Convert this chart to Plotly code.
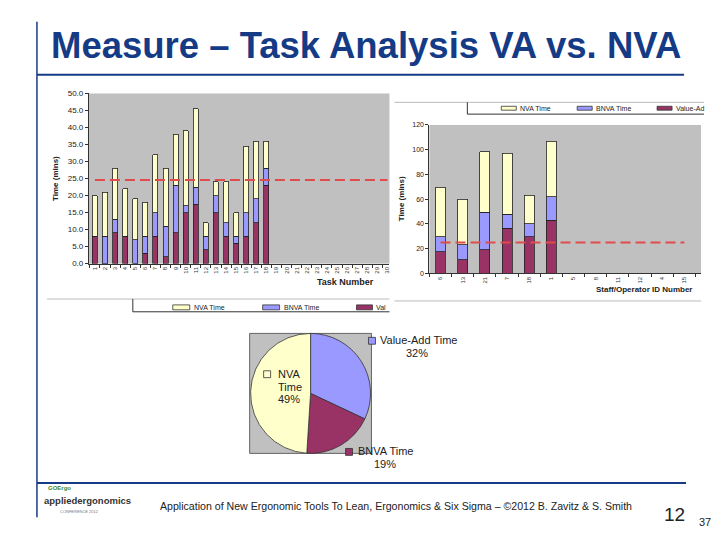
import plotly.graph_objects as go

# ---------------- data ----------------
task_numbers = ["1", "2", "3", "4", "5", "6", "7", "8", "9", "10", "11", "12", "13", "14", "15",
                "16", "17", "18", "19", "20", "21", "22", "23", "24", "25", "26", "27", "28", "29", "30"]
task_va = [8, 0, 9, 8, 0, 3, 8, 2, 9, 15, 17.5, 4, 15, 8, 6, 8, 12, 23]
task_bnva = [0, 8, 4, 0, 7, 5, 7, 9, 14, 2, 5, 4, 5, 4, 2, 7, 7, 5]
task_nva = [12, 13, 15, 14, 12, 10, 17, 17, 15, 22, 23, 4, 4, 12, 7, 19.5, 17, 8]
task_target = 24.6
task_yticks = [0, 5, 10, 15, 20, 25, 30, 35, 40, 45, 50]

staff_ids = ["6", "13", "21", "7", "18", "1", "5", "8", "11", "12", "4", "15"]
staff_va = [17.5, 11, 19, 36.5, 29.5, 43]
staff_bnva = [12, 12, 30.5, 11.5, 10.5, 19]
staff_nva = [40, 37, 49, 49, 23, 45]
staff_target = 25
staff_yticks = [0, 20, 40, 60, 80, 100, 120]

pie_labels = ["Value-Add Time", "BNVA Time", "NVA Time"]
pie_values = [32, 19, 49]

# ---------------- styles ----------------
C_NVA = "#FFFFCC"
C_BNVA = "#9999FF"
C_VA = "#993366"
C_GRAY = "#C0C0C0"
C_RED = "#E24B4B"
NAVY = "#153B86"
FONT = "Liberation Sans"
W, H = 720, 540


def px(x):
    return x / W


def py(y):
    return 1 - y / H


fig = go.Figure()
outline = dict(color="#222222", width=0.8)

# left chart
n = len(task_va)
fig.add_trace(go.Bar(x=task_numbers[:n], y=task_va, marker=dict(color=C_VA, line=outline),
                     width=0.5, xaxis="x", yaxis="y", showlegend=False))
fig.add_trace(go.Bar(x=task_numbers[:n], y=task_bnva, marker=dict(color=C_BNVA, line=outline),
                     width=0.5, xaxis="x", yaxis="y", showlegend=False))
fig.add_trace(go.Bar(x=task_numbers[:n], y=task_nva, marker=dict(color=C_NVA, line=outline),
                     width=0.5, xaxis="x", yaxis="y", showlegend=False))
fig.add_trace(go.Scatter(x=task_numbers, y=[task_target] * len(task_numbers), mode="lines",
                         line=dict(color=C_RED, width=2, dash="10px,5px"),
                         xaxis="x", yaxis="y", showlegend=False))

# right chart
m = len(staff_va)
fig.add_trace(go.Bar(x=staff_ids[:m], y=staff_va, marker=dict(color=C_VA, line=outline),
                     width=0.45, xaxis="x2", yaxis="y2", showlegend=False))
fig.add_trace(go.Bar(x=staff_ids[:m], y=staff_bnva, marker=dict(color=C_BNVA, line=outline),
                     width=0.45, xaxis="x2", yaxis="y2", showlegend=False))
fig.add_trace(go.Bar(x=staff_ids[:m], y=staff_nva, marker=dict(color=C_NVA, line=outline),
                     width=0.45, xaxis="x2", yaxis="y2", showlegend=False))
fig.add_trace(go.Scatter(x=staff_ids, y=[staff_target] * len(staff_ids), mode="lines",
                         line=dict(color=C_RED, width=2, dash="10px,5px"),
                         xaxis="x2", yaxis="y2", showlegend=False))

# pie
fig.add_trace(go.Pie(labels=pie_labels, values=pie_values, sort=False, direction="clockwise",
                     marker=dict(colors=[C_BNVA, C_VA, C_NVA], line=dict(color="#333333", width=0.8)),
                     textinfo="none", hoverinfo="label+percent", showlegend=False,
                     domain=dict(x=[px(250), px(372)], y=[py(457), py(335)])))

axis_font = dict(family=FONT, size=8, color="#222222")
fig.update_layout(
    width=W, height=H, margin=dict(l=0, r=0, t=0, b=0),
    paper_bgcolor="white", plot_bgcolor=C_GRAY,
    barmode="stack", bargap=0.5,
    font=dict(family=FONT),
    xaxis=dict(domain=[px(89), px(390)], type="category", categoryorder="array",
               categoryarray=task_numbers, range=[-0.6, 29.2], tickangle=-90,
               tickfont=dict(family=FONT, size=6, color="#333"), ticks="outside", ticklen=3,
               tickson="boundaries", tickcolor="#333", showline=True, linecolor="#333",
               showgrid=False, anchor="y"),
    yaxis=dict(domain=[py(264), py(91)], range=[0, 50], tickvals=task_yticks,
               ticktext=[f"{v:.1f}" for v in task_yticks], tickfont=axis_font,
               ticks="outside", ticklen=3, tickcolor="#333", showline=True, linecolor="#333",
               showgrid=False, zeroline=False, anchor="x"),
    xaxis2=dict(domain=[px(430), px(702)], type="category", categoryorder="array",
                categoryarray=staff_ids, range=[-0.5, 11.75], tickangle=-90,
                tickfont=dict(family=FONT, size=6, color="#333"), ticks="outside", ticklen=3,
                tickson="boundaries", tickcolor="#333", showline=True, linecolor="#333",
                showgrid=False, anchor="y2"),
    yaxis2=dict(domain=[py(274), py(123)], range=[0, 120], tickvals=staff_yticks,
                tickfont=dict(family=FONT, size=7, color="#222"), ticks="outside", ticklen=3,
                tickcolor="#333", showline=True, linecolor="#333", showgrid=False,
                zeroline=False, anchor="x2"),
)

shapes = []
ann = []


def line(x0, y0, x1, y1, color, width=1):
    shapes.append(dict(type="line", xref="paper", yref="paper", x0=px(x0), y0=py(y0),
                       x1=px(x1), y1=py(y1), line=dict(color=color, width=width)))


def rect(x0, y0, x1, y1, fill, color="#333", width=0.8, layer="above"):
    shapes.append(dict(type="rect", xref="paper", yref="paper", x0=px(x0), y0=py(y0),
                       x1=px(x1), y1=py(y1), fillcolor=fill, layer=layer,
                       line=dict(color=color, width=width)))


def text(x, y, s, size=10, color="#222", xanchor="left", yanchor="middle", bold=False,
         angle=0, family=FONT, align="left"):
    if bold:
        s = f"<b>{s}</b>"
    ann.append(dict(x=px(x), y=py(y), xref="paper", yref="paper", text=s, showarrow=False,
                    xanchor=xanchor, yanchor=yanchor, textangle=angle, align=align,
                    font=dict(size=size, color=color, family=family)))


# slide frame
line(37, 18, 37, 522, NAVY, 1.5)
line(37, 72, 685, 72, NAVY, 2)
line(37, 487, 687, 487, NAVY, 2)
text(49, 42, "Measure – Task Analysis VA vs. NVA", size=36.5, color=NAVY, bold=True)

# left chart labels and legend
text(55, 177, "Time (mins)", size=8, bold=True, angle=-90, xanchor="center")
text(346, 283, "Task Number", size=9, bold=True, xanchor="center")
line(47, 300, 390, 300, "#BBBBBB", 1)
line(133, 300, 133, 313, "#333", 1)
line(133, 313, 390, 313, "#333", 1)
rect(173, 306, 190, 311, C_NVA)
text(192, 309, "NVA Time", size=7)
rect(263, 306, 280, 311, C_BNVA)
text(282, 309, "BNVA Time", size=7)
rect(357, 306, 373, 311, C_VA)
text(375, 309, "Val", size=7)

# right chart labels and legend
text(402, 198, "Time (mins)", size=8, bold=True, angle=-90, xanchor="center")
text(645, 290, "Staff/Operator ID Number", size=8, bold=True, xanchor="center")
line(395, 100, 705, 100, "#BBBBBB", 1)
line(395, 302, 702, 302, "#BBBBBB", 1)
line(468, 100, 468, 112, "#333", 1)
line(468, 112, 705, 112, "#333", 1)
rect(502, 104, 517, 108, C_NVA)
text(519, 106, "NVA Time", size=7)
rect(578, 104, 593, 108, C_BNVA)
text(595, 106, "BNVA Time", size=7)
rect(658, 104, 673, 108, C_VA)
text(675, 106, "Value-Ad", size=7)

# pie frame and labels
rect(250, 335, 372, 457, C_GRAY, color="#666", width=1, layer="below")
rect(369, 339, 376, 346, C_BNVA, color="#333")
text(379, 342, "Value-Add Time", size=11)
text(418, 355, "32%", size=11, xanchor="center")
rect(264, 373, 271, 380, C_NVA, color="#333")
text(276, 376, "NVA", size=11)
text(290, 389, "Time", size=11, xanchor="center")
text(289, 402, "49%", size=11, xanchor="center")
rect(346, 452, 353, 459, C_VA, color="#333")
text(356, 455, "BNVA Time", size=11)
text(386, 468, "19%", size=11, xanchor="center")

# footer
text(46, 492, "GOErgo", size=6, color="#3A8A2A", bold=True)
text(42, 505, "appliedergonomics", size=9.5, color="#333", bold=True)
text(80, 516, "CONFERENCE 2012", size=4, color="#777", xanchor="center")
text(397, 510, "Application of New Ergonomic Tools To Lean, Ergonomics & Six Sigma – ©2012 B. Zavitz & S. Smith",
     size=10.6, xanchor="center")
text(675, 519, "12", size=19, xanchor="center")
text(706, 527, "37", size=11, xanchor="center")

fig.update_layout(shapes=shapes, annotations=ann)
fig.write_html("out.html")
